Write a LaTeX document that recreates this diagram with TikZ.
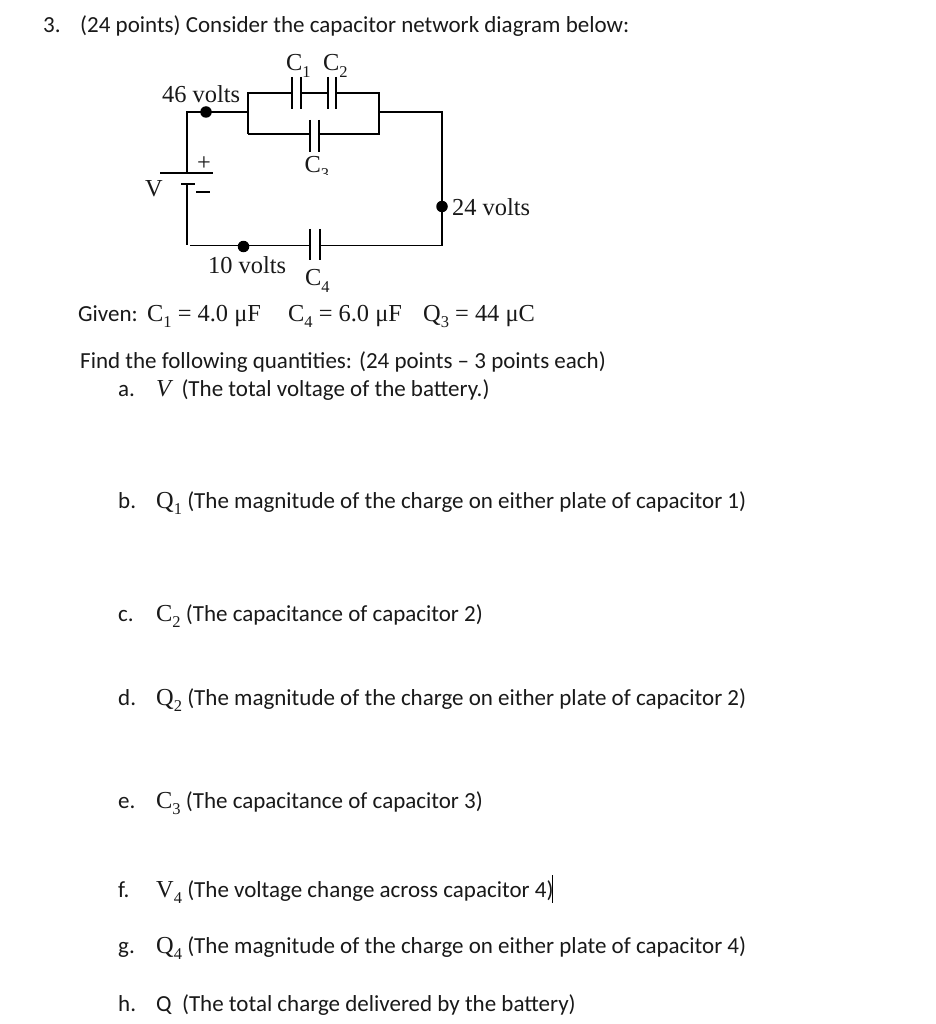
\documentclass[tikz,border=0pt]{standalone}
\usepackage{fontspec}
\setmainfont{Carlito}
\newfontfamily\mathser{Liberation Serif}
\newcommand\bodyf{\fontsize{23}{26}\selectfont}
\newcommand\serf{\mathser\fontsize{24.4}{26}\selectfont}
\newcommand\sbs[1]{\raisebox{-.27em}{\mathser\fontsize{16.5}{16.5}\selectfont #1}}
\newcommand\mv[2]{{\serf #1\sbs{#2}}}
\tikzset{
  x=1pt,y=-1pt,
  wire/.style={line width=1.3pt,black},
  plate/.style={line width=1.3pt,black},
  junction/.style={circle,fill=black,draw=none,minimum size=11.5pt,inner sep=0},
  txt/.style={anchor=base west,inner sep=0,font=\bodyf,text=black!90},
  lab/.style={anchor=base west,inner sep=0,font=\serf,text=black!90},
}
\begin{document}
\begin{tikzpicture}
\useasboundingbox (0,0) rectangle (935,1024);
\fill[white] (0,0) rectangle (935,1024);
% junction points
\coordinate (tl) at (187,112);
\coordinate (jl) at (248,112);
\coordinate (jr) at (379,112);
\coordinate (tr) at (442,112);
\coordinate (br) at (442,245.5);
\coordinate (bl) at (190,245.5);
\coordinate (ul) at (248,93);
\coordinate (ur) at (379,93);
\coordinate (ll) at (248,134);
\coordinate (lr) at (379,134);
\coordinate (batT) at (187,173);
\coordinate (batB) at (187,184);
\coordinate (lw) at (187,245);
\node[junction] (d46) at (206,112) {};
\node[junction] (d24) at (442,206.5) {};
\node[junction] (d10) at (243.5,246.5) {};
% capacitor plates
\coordinate (c1a) at (292,93); \coordinate (c1b) at (301,93);
\coordinate (c2a) at (328,93); \coordinate (c2b) at (336,93);
\coordinate (c3a) at (310,134); \coordinate (c3b) at (319,134);
\coordinate (c4a) at (310,245.5); \coordinate (c4b) at (320,245.5);
\draw[plate] (292,77) -- (292,109);
\draw[plate] (301,77) -- (301,109);
\draw[plate] (328,77) -- (328,109);
\draw[plate] (336,77) -- (336,109);
\draw[plate] (310,120) -- (310,152);
\draw[plate] (319,120) -- (319,152);
\draw[plate] (310,229) -- (310,260);
\draw[plate] (320,229) -- (320,260);
% wires
\draw[wire] (batT) -- (tl) -- (jl);
\draw[wire] (ll) -- (ul) -- (c1a);
\draw[wire] (c1b) -- (c2a);
\draw[wire] (c2b) -- (ur) -- (lr) -- (c3b);
\draw[wire] (c3a) -- (ll);
\draw[wire] (jr) -- (tr) -- (br) -- (c4b);
\draw[wire] (c4a) -- (bl);
\draw[wire] (batB) -- (lw);
% battery
\draw[plate] (160,173) -- (213,173);
\draw[plate] (181,184) -- (195,184);
% circuit labels
\node[lab] (lc1) at (286,71) {C\sbs{1}};
\node[lab] (lc2) at (323,71) {C\sbs{2}};
\node[lab] (l46) at (162,102.5) {46 volts};
\node[lab] (lplus) at (197,170.5) {+};
\draw[plate] (196,192) -- (210,192);
\begin{scope}
\clip (290,150) rectangle (340,174.5);
\node[lab] (lc3) at (304.5,173) {C\sbs{3}};
\end{scope}
\node[lab] (lV) at (145,197) {V};
\node[lab] (l24) at (452,215) {24 volts};
\node[lab] (l10) at (208,273.5) {10 volts};
\node[lab] (lc4) at (305,285.5) {C\sbs{4}};
% question text
\node[txt] (t0) at (43,33) {3.};
\node[txt] (t0b) at (80,33) {(24 points) Consider the capacitor network diagram below:};
\node[txt] (g0) at (78,321) {Given:};
\node[lab] (g1) at (147,321) {C\sbs{1} = 4.0 μF};
\node[lab] (g2) at (288,321) {C\sbs{4} = 6.0 μF};
\node[lab] (g3) at (423,321) {Q\sbs{3} = 44 μC};
\node[txt] (f0) at (80,368) {Find the following quantities: (24 points – 3 points each)};
\node[txt] (a0) at (118,396) {a.};
\node[txt] (a1) at (156,396) {{\serf\itshape V}\ \ (The total voltage of the battery.)};
\node[txt] (b0) at (118,508) {b.};
\node[txt] (b1) at (156,508) {\mv{Q}{1} (The magnitude of the charge on either plate of capacitor 1)};
\node[txt] (c0) at (118,621) {c.};
\node[txt] (c1) at (156,621) {\mv{C}{2} (The capacitance of capacitor 2)};
\node[txt] (d0) at (118,705) {d.};
\node[txt] (d1) at (156,705) {\mv{Q}{2} (The magnitude of the charge on either plate of capacitor 2)};
\node[txt] (e0) at (118,808) {e.};
\node[txt] (e1) at (156,808) {\mv{C}{3} (The capacitance of capacitor 3)};
\node[txt] (f1) at (118,897) {f.};
\node[txt] (f2) at (156,897) {\mv{V}{4} (The voltage change across capacitor 4)};
\draw[line width=.9pt] (552,875) -- (552,903);
\node[txt] (g4) at (118,953) {g.};
\node[txt] (g5) at (156,953) {\mv{Q}{4} (The magnitude of the charge on either plate of capacitor 4)};
\node[txt] (h0) at (118,1011) {h.};
\node[txt] (h1) at (156,1011) {Q\ \ (The total charge delivered by the battery)};
\end{tikzpicture}
\end{document}
